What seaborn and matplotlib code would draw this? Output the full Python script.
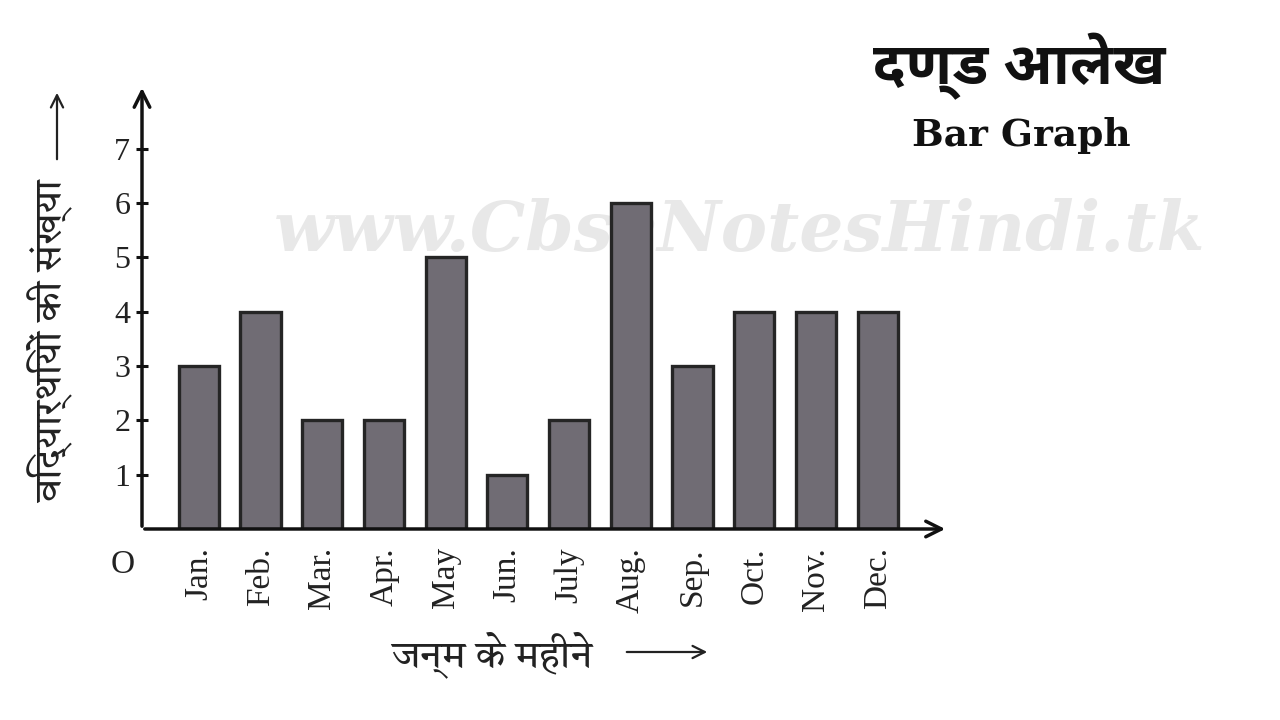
import matplotlib
matplotlib.use("Agg")
import matplotlib.pyplot as plt
import seaborn as sns
import pandas as pd

# ---- data ----
months = ["Jan.", "Feb.", "Mar.", "Apr.", "May", "Jun.", "July",
          "Aug.", "Sep.", "Oct.", "Nov.", "Dec."]
students = [3, 4, 2, 2, 5, 1, 2, 6, 3, 4, 4, 4]
yticks = [1, 2, 3, 4, 5, 6, 7]

title_hi = "दण्ड आलेख"
title_en = "Bar Graph"
ylabel_hi = "विद्यार्थियों की संख्या"
xlabel_hi = "जन्म के महीने"
watermark = "www.CbseNotesHindi.tk"

label_family = ["Tiro Devanagari Hindi", "Noto Sans Devanagari", "DejaVu Sans"]
title_family = ["Noto Sans Devanagari UI", "Noto Sans Devanagari", "DejaVu Sans"]

sns.set_theme(style="white")
plt.rcParams["font.family"] = ["Liberation Serif", "DejaVu Serif"]

fig = plt.figure(figsize=(12.8, 7.2), dpi=100)
ax = fig.add_axes([142 / 1280, 1 - 529 / 720, (948 - 142) / 1280, (529 - 85) / 720])
ax.set_zorder(2)

df = pd.DataFrame({"month": months, "students": students})

# watermark behind everything
fig.text(740 / 1280, 1 - 232 / 720, watermark, ha="center", va="center",
         fontsize=50, fontstyle="italic", fontweight="bold",
         family=["DejaVu Serif"], color="#e8e8e8", zorder=0)

sns.barplot(data=df, x="month", y="students", ax=ax, color="#706c74",
            saturation=1, width=0.65, edgecolor="#252525", linewidth=2.4)

ax.set_facecolor("none")
ax.set_xlim(-0.92, 12.14)
ax.set_ylim(0, 8.17)
for s in ax.spines.values():
    s.set_visible(False)

# axes with arrows
ax.annotate("", xy=(1.0, 0), xytext=(0, 0), xycoords="axes fraction",
            arrowprops=dict(arrowstyle="->", lw=2.5, color="#111111",
                            mutation_scale=28))
ax.annotate("", xy=(0, 1.0), xytext=(0, 0), xycoords="axes fraction",
            arrowprops=dict(arrowstyle="->", lw=2.5, color="#111111",
                            mutation_scale=28))

ax.set_yticks(yticks)
ax.set_yticklabels([str(v) for v in yticks], fontsize=23, color="#222222")
ax.tick_params(axis="y", direction="inout", length=9, width=2.2,
               color="#111111", left=True, pad=4)
ax.set_xticks(range(len(months)))
ax.set_xticklabels(months, rotation=90, fontsize=24, color="#222222",
                   va="top")
ax.tick_params(axis="x", length=0, pad=13)
ax.set_xlabel("")
ax.set_ylabel("")

fig.text(123 / 1280, 1 - 565 / 720, "O", ha="center", va="center",
         fontsize=24, color="#222222")

# y label with arrow
fig.text(50 / 1280, 1 - 342 / 720, ylabel_hi, rotation=90, ha="center",
         va="center", fontsize=28, family=label_family, color="#222222")
ax.annotate("", xy=(57 / 1280, 1 - 90 / 720), xytext=(57 / 1280, 1 - 162 / 720),
            xycoords="figure fraction",
            arrowprops=dict(arrowstyle="->", lw=1.6, color="#222222",
                            mutation_scale=22))

# x label with arrow
fig.text(492 / 1280, 1 - 655 / 720, xlabel_hi, ha="center", va="center",
         fontsize=28, family=label_family, color="#222222")
ax.annotate("", xy=(710 / 1280, 1 - 652 / 720), xytext=(624 / 1280, 1 - 652 / 720),
            xycoords="figure fraction",
            arrowprops=dict(arrowstyle="->", lw=1.6, color="#222222",
                            mutation_scale=22))

# titles
fig.text(1019 / 1280, 1 - 66 / 720, title_hi, ha="center", va="center",
         fontsize=42, fontweight="bold", family=title_family, color="#111111")
fig.text(1021 / 1280, 1 - 135 / 720, title_en, ha="center", va="center",
         fontsize=27, fontweight="bold", family=["DejaVu Serif"], color="#111111")

fig.savefig("out.png", dpi=100)
